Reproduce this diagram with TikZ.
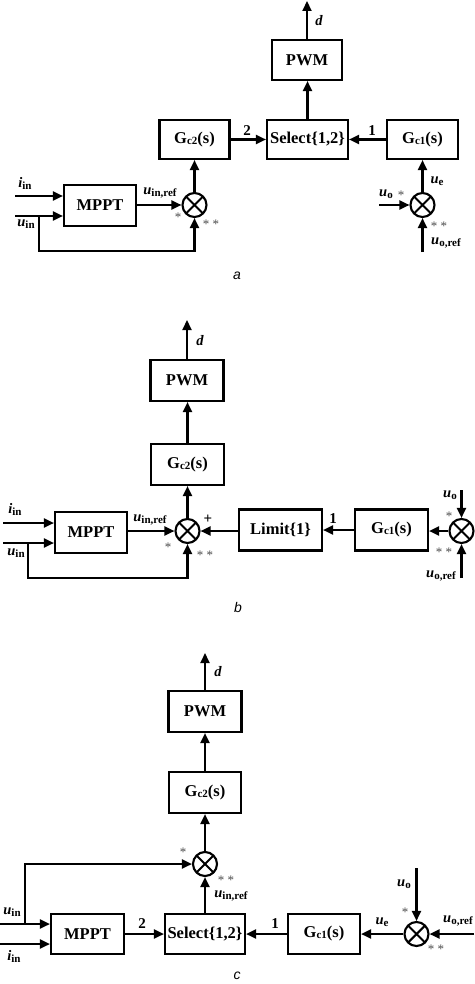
\documentclass[tikz,border=0pt]{standalone}
\usepackage{fontspec}
\setmainfont{Liberation Serif}
\newfontfamily\capfont{Liberation Sans}
\usetikzlibrary{arrows.meta}
\newcommand\vlab[2]{\textbf{\textit{#1}}\raisebox{-2pt}{\fontsize{11}{11}\selectfont\bfseries #2}}
\newcommand\gsub[1]{G\raisebox{-1pt}{\fontsize{11}{11}\selectfont #1}(s)}
\tikzset{
  blk/.style={draw, line width=2.1pt, minimum width=72pt, minimum height=40pt, inner sep=0pt,
    font=\bfseries\fontsize{16.5}{18}\selectfont},
  sumj/.style={circle, draw, line width=2.1pt, minimum size=24pt, inner sep=0pt,
    path picture={\draw[line width=2.1pt] (path picture bounding box.north west) -- (path picture bounding box.south east)
      (path picture bounding box.north east) -- (path picture bounding box.south west);}},
  conn/.style={line width=2.1pt, -{Triangle[length=10pt,width=9pt]}},
  lab/.style={font=\fontsize{14.5}{16}\selectfont, inner sep=0pt},
  star/.style={font=\fontsize{13}{13}\selectfont, text=black!70, inner sep=0pt},
  num/.style={font=\bfseries\fontsize{15}{16}\selectfont, inner sep=0pt},
  captxt/.style={font=\capfont\itshape\fontsize{14}{16}\selectfont, inner sep=0pt}
}
\begin{document}
\begin{tikzpicture}[x=1pt,y=-1pt]
\useasboundingbox[fill=white] (0,0) rectangle (474,984);

% ================= panel a =================
\node[blk, minimum width=70pt] (pwmA) at (307,60) {PWM};
\node[blk, minimum width=81pt, minimum height=39pt] (selA) at (307.5,139.5) {Select\{1,2\}};
\node[blk, minimum width=70pt, minimum height=39pt] (gc2A) at (194.5,139.5) {\gsub{c2}};
\node[blk, minimum width=71pt, minimum height=39pt] (gc1A) at (422.5,139.5) {\gsub{c1}};
\node[blk, minimum height=41pt] (mpptA) at (100,205.5) {MPPT};
\node[sumj] (sLA) at (194.5,205) {};
\node[sumj] (sRA) at (422.5,205) {};
\coordinate (dA) at (307,1);
\coordinate (iA) at (15,196);
\coordinate (uA) at (15,216);
\coordinate (fbA) at (39,216);
\coordinate (fbA2) at (39,251);
\coordinate (uoA) at (379,205);
\coordinate (uorefA) at (422.5,252);
\draw[conn] (pwmA.north) -- (dA);
\draw[conn] (selA.north) -- (selA.north |- pwmA.south);
\draw[conn] (gc2A.east) -- (selA.west);
\draw[conn] (gc1A.west) -- (selA.east);
\draw[conn] (iA) -- (iA -| mpptA.west);
\draw[conn] (uA) -- (uA -| mpptA.west);
\draw[conn] (mpptA.east |- sLA.west) -- (sLA.west);
\draw[conn] (sLA.north) -- (sLA.north |- gc2A.south);
\draw[conn] (fbA) -- (fbA2) -| (sLA.south);
\draw[conn] (uoA) -- (sRA.west);
\draw[conn] (uorefA) -- (sRA.south);
\draw[conn] (sRA.north) -- (sRA.north |- gc1A.south);
\node[lab] (ldA) at (319,21) {\textbf{\textit{d}}};
\node[num] (l2A) at (247,131) {2};
\node[num] (l1A) at (372,131) {1};
\node[lab] (liA) at (25,183) {\vlab{i}{in}};
\node[lab] (luA) at (26,224) {\vlab{u}{in}};
\node[lab] (lurA) at (160,193) {\vlab{u}{in,ref}};
\node[star] (s1A) at (178,217) {*};
\node[star] (s2A) at (211,224) {* *};
\node[lab] (luoA) at (386,194) {\vlab{u}{o}};
\node[star] (s3A) at (401,195) {*};
\node[lab] (lueA) at (437,181) {\vlab{u}{e}};
\node[star] (s4A) at (439,226) {* *};
\node[lab] (luorA) at (446,243) {\vlab{u}{o,ref}};
\node[captxt] (capA) at (237,276) {a};

% ================= panel b =================
\node[blk, minimum width=73pt, minimum height=41pt] (pwmB) at (187,380.5) {PWM};
\node[blk, minimum width=73pt, minimum height=41pt] (gc2B) at (187.5,464.5) {\gsub{c2}};
\node[blk, minimum height=41pt] (mpptB) at (91,532.5) {MPPT};
\node[blk, minimum width=83pt, minimum height=41pt] (limB) at (280.5,530) {Limit\{1\}};
\node[blk, minimum width=73pt, minimum height=41pt] (gc1B) at (391.5,530) {\gsub{c1}};
\node[sumj] (sLB) at (187.5,531) {};
\node[sumj] (sRB) at (461.5,531) {};
\coordinate (dB) at (187,320);
\coordinate (iB) at (3,523);
\coordinate (uB) at (3,543);
\coordinate (fbB) at (28,543);
\coordinate (fbB2) at (28,578);
\coordinate (uoB) at (461.5,490);
\coordinate (uorefB) at (461.5,578);
\draw[conn] (pwmB.north) -- (dB);
\draw[conn] (gc2B.north) -- (gc2B.north |- pwmB.south);
\draw[conn] (sLB.north) -- (sLB.north |- gc2B.south);
\draw[conn] (iB) -- (iB -| mpptB.west);
\draw[conn] (uB) -- (uB -| mpptB.west);
\draw[conn] (mpptB.east |- sLB.west) -- (sLB.west);
\draw[conn] (fbB) -- (fbB2) -| (sLB.south);
\draw[conn] (limB.west |- sLB.east) -- (sLB.east);
\draw[conn] (gc1B.west) -- (limB.east);
\draw[conn] (sRB.west) -- (sRB.west -| gc1B.east);
\draw[conn] (uoB) -- (sRB.north);
\draw[conn] (uorefB) -- (sRB.south);
\node[lab] (ldB) at (200,341) {\textbf{\textit{d}}};
\node[lab] (liB) at (15,509) {\vlab{i}{in}};
\node[lab] (luB) at (16,553) {\vlab{u}{in}};
\node[lab] (lurB) at (150,520) {\vlab{u}{in,ref}};
\node[num] (lpB) at (208,519) {+};
\node[star] (s1B) at (168,547) {*};
\node[star] (s2B) at (205,555) {* *};
\node[num] (l1B) at (333,519) {1};
\node[lab] (luoB) at (450,495) {\vlab{u}{o}};
\node[star] (s3B) at (449,516) {*};
\node[star] (s4B) at (444,552) {* *};
\node[lab] (luorB) at (441,576) {\vlab{u}{o,ref}};
\node[captxt] (capB) at (238,607) {b};

% ================= panel c =================
\node[blk, minimum width=73pt, minimum height=41pt] (pwmC) at (205,711.5) {PWM};
\node[blk, minimum width=72pt, minimum height=41pt] (gc2C) at (205,792.5) {\gsub{c2}};
\node[sumj] (sTC) at (205,864) {};
\node[blk, minimum width=80pt] (selC) at (205,934) {Select\{1,2\}};
\node[blk, minimum width=73pt] (mpptC) at (87.5,934) {MPPT};
\node[blk] (gc1C) at (324,934) {\gsub{c1}};
\node[sumj] (sRC) at (416.5,934) {};
\coordinate (dC) at (205,653);
\coordinate (uC) at (0,924);
\coordinate (iC) at (0,944);
\coordinate (brC) at (25,924);
\coordinate (brC2) at (25,864);
\coordinate (uoC) at (416.5,868);
\coordinate (uorefC) at (474,934);
\draw[conn] (pwmC.north) -- (dC);
\draw[conn] (gc2C.north) -- (gc2C.north |- pwmC.south);
\draw[conn] (sTC.north) -- (sTC.north |- gc2C.south);
\draw[conn] (selC.north) -- (sTC.south);
\draw[conn] (brC) -- (brC2) -- (sTC.west);
\draw[conn] (uC) -- (uC -| mpptC.west);
\draw[conn] (iC) -- (iC -| mpptC.west);
\draw[conn] (mpptC.east) -- (selC.west);
\draw[conn] (gc1C.west) -- (selC.east);
\draw[conn] (sRC.west) -- (gc1C.east);
\draw[conn] (uoC) -- (sRC.north);
\draw[conn] (uorefC) -- (sRC.east);
\node[lab] (ldC) at (218,672) {\textbf{\textit{d}}};
\node[star] (s1C) at (183,852) {*};
\node[star] (s2C) at (226,880) {* *};
\node[lab] (lurC) at (231,896) {\vlab{u}{in,ref}};
\node[lab] (luC) at (12,912) {\vlab{u}{in}};
\node[lab] (liC) at (14,956) {\vlab{i}{in}};
\node[num] (l2C) at (142,924) {2};
\node[num] (l1C) at (275,924) {1};
\node[lab] (lueC) at (382,922) {\vlab{u}{e}};
\node[lab] (luoC) at (404,884) {\vlab{u}{o}};
\node[star] (s3C) at (405,912) {*};
\node[lab] (luorC) at (458,921) {\vlab{u}{o,ref}};
\node[star] (s4C) at (436,949) {* *};
\node[captxt] (capC) at (237,976) {c};
\end{tikzpicture}
\end{document}
